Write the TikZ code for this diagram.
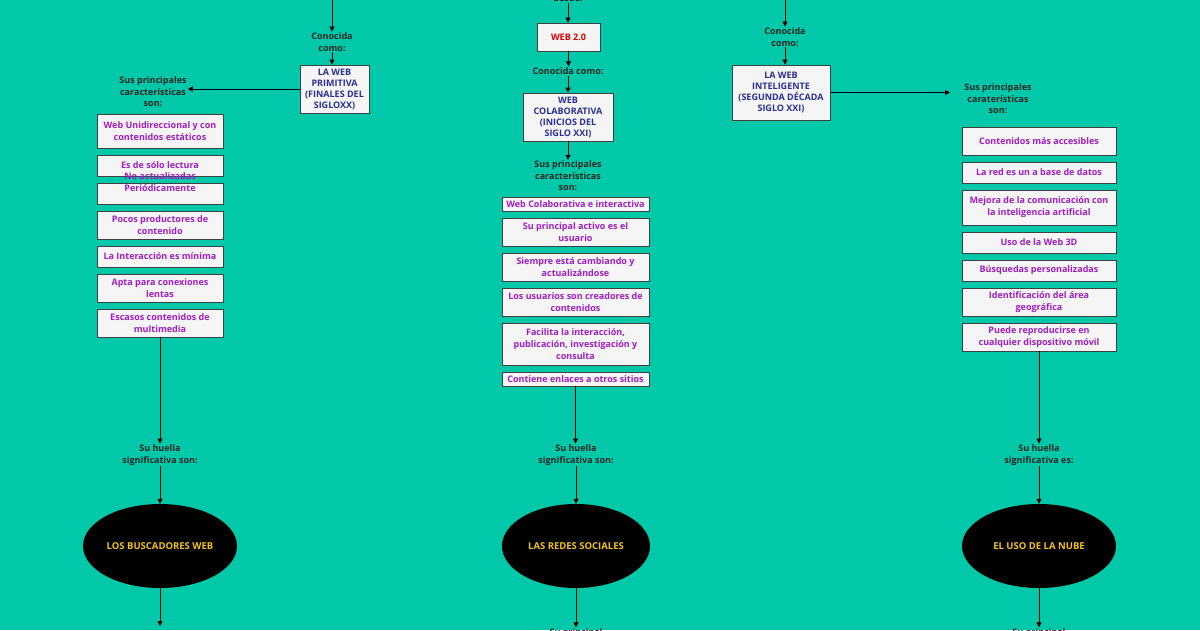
\documentclass[tikz,border=0pt]{standalone}
\usepackage{fontspec}
\setmainfont{Open Sans}
\usetikzlibrary{arrows.meta,shapes.geometric}
\definecolor{bg}{HTML}{00C8A8}
\definecolor{navy}{HTML}{2A2F8F}
\definecolor{purp}{HTML}{A21CC2}
\definecolor{gold}{HTML}{F2C21B}
\begin{document}
\begin{tikzpicture}[x=1pt,y=-1pt,
  box/.style={draw=black!75,line width=0.8pt,fill=white!96!black,align=center,inner sep=1pt,font=\fontsize{9}{12}\selectfont\bfseries},
  feat/.style={box,text=purp},
  title/.style={box,text=navy,font=\fontsize{9}{11}\selectfont\bfseries},
  lbl/.style={align=center,font=\fontsize{9}{11.5}\selectfont\bfseries,text=black!85,inner sep=1pt},
  oval/.style={ellipse,fill=black,text=gold,font=\fontsize{9.5}{10}\selectfont\bfseries,inner sep=0pt},
  arr/.style={-{Triangle[length=5pt,width=5pt]},line width=0.8pt,black}]
\useasboundingbox[fill=bg] (0,0) rectangle (1200,630);
% ---------- left column
\coordinate (lt) at (332,-2);
\node[lbl] (lc) at (332,42) {Conocida\\como:};
\node[title,minimum width=69pt,minimum height=48pt] (lw) at (334.5,89) {LA WEB\\PRIMITIVA\\(FINALES DEL\\SIGLOXX)};
\draw[arr] (lt) -- (lt |- lc.north);
\draw[arr] (lc.south) -- (lc.south |- lw.north);
\node[lbl] (ls) at (153,92) {Sus principales\\características\\son:};
\draw[arr] (lw.west) -- (lw.west -| ls.east);
\tikzset{lf/.style={feat,minimum width=126pt}}
\node[lf,minimum height=34pt] (l1) at (160,131) {Web Unidireccional y con\\contenidos estáticos};
\node[lf,minimum height=21pt] (l2) at (160,165.5) {Es de sólo lectura};
\node[lf,minimum height=21pt,text height=6pt,text depth=10pt] (l3) at (160,193.5) {No actualizadas\\Periódicamente};
\node[lf,minimum height=28pt] (l4) at (160,225) {Pocos productores de\\contenido};
\node[lf,minimum height=21pt] (l5) at (160,256.5) {La Interacción es mínima};
\node[lf,minimum height=28pt] (l6) at (160,288) {Apta para conexiones\\lentas};
\node[lf,minimum height=28pt] (l7) at (160,323) {Escasos contenidos de\\multimedia};
\node[lbl] (lh) at (160,455) {Su huella\\significativa son:};
\draw[arr] (l7.south) -- (l7.south |- lh.north);
\node[oval,minimum width=154pt,minimum height=84pt] (le) at (160,546) {LOS BUSCADORES WEB};
\draw[arr] (lh.south) -- (lh.south |- le.north);
\coordinate (lb) at (160,626);
\draw[arr] (le.south) -- (lb);
% ---------- middle column
\node[lbl] (md) at (568,-2) {desde.};
\node[box,text=red!85!black,minimum width=63pt,minimum height=28pt] (m2) at (568.5,37) {WEB 2.0};
\draw[arr] (md.south) -- (md.south |- m2.north);
\node[lbl] (mc) at (568,71) {Conocida como:};
\draw[arr] (m2.south) -- (m2.south |- mc.north);
\node[title,minimum width=90pt,minimum height=48pt] (mw) at (568,117) {WEB\\COLABORATIVA\\(INICIOS DEL\\SIGLO XXI)};
\draw[arr] (mc.south) -- (mc.south |- mw.north);
\node[lbl] (ms) at (568,176) {Sus principales\\características\\son:};
\draw[arr] (mw.south) -- (mw.south |- ms.north);
\tikzset{mf/.style={feat,minimum width=147pt}}
\node[mf,minimum height=14pt] (m1) at (575.5,204) {Web Colaborativa e interactiva};
\node[mf,minimum height=28pt] (m3) at (575.5,232) {Su principal activo es el\\usuario};
\node[mf,minimum height=28pt] (m4) at (575.5,267) {Siempre está cambiando y\\actualizándose};
\node[mf,minimum height=28pt] (m5) at (575.5,302) {Los usuarios son creadores de\\contenidos};
\node[mf,minimum height=42pt] (m6) at (575.5,344) {Facilita la interacción,\\publicación, investigación y\\consulta};
\node[mf,minimum height=14pt] (m7) at (575.5,379) {Contiene enlaces a otros sitios};
\node[lbl] (mh) at (576,455) {Su huella\\significativa son:};
\draw[arr] (m7.south) -- (m7.south |- mh.north);
\node[oval,minimum width=148pt,minimum height=84pt] (me) at (576,546) {LAS REDES SOCIALES};
\draw[arr] (mh.south) -- (mh.south |- me.north);
\node[lbl] (mp) at (576,633) {Su principal};
\draw[arr] (me.south) -- (mp.north);
% ---------- right column
\coordinate (rt) at (785,-2);
\node[lbl] (rc) at (785,37) {Conocida\\como:};
\draw[arr] (rt) -- (rt |- rc.north);
\node[title,minimum width=98pt,minimum height=55pt] (rw) at (781,92.5) {LA WEB\\INTELIGENTE\\(SEGUNDA DÉCADA\\SIGLO XXI)};
\draw[arr] (rc.south) -- (rc.south |- rw.north);
\node[lbl] (rs) at (998,99) {Sus principales\\caraterísticas\\son:};
\coordinate (ra) at (950,93);
\draw[arr] (rw.east) -- (rw.east -| ra);
\tikzset{rf/.style={feat,minimum width=154pt}}
\node[rf,minimum height=28pt] (r1) at (1039,141) {Contenidos más accesibles};
\node[rf,minimum height=21pt] (r2) at (1039,172.5) {La red es un a base de datos};
\node[rf,minimum height=35pt] (r3) at (1039,207.5) {Mejora de la comunicación con\\la inteligencia artificial};
\node[rf,minimum height=21pt] (r4) at (1039,242.5) {Uso de la Web 3D};
\node[rf,minimum height=21pt] (r5) at (1039,270.5) {Búsquedas personalizadas};
\node[rf,minimum height=28pt] (r6) at (1039,302) {Identificación del área\\geográfica};
\node[rf,minimum height=28pt] (r7) at (1039,337) {Puede reproducirse en\\cualquier dispositivo móvil};
\node[lbl] (rh) at (1039,455) {Su huella\\significativa es:};
\draw[arr] (r7.south) -- (r7.south |- rh.north);
\node[oval,minimum width=154pt,minimum height=84pt] (re) at (1039,546) {EL USO DE LA NUBE};
\draw[arr] (rh.south) -- (rh.south |- re.north);
\node[lbl] (rp) at (1039,633) {Su principal};
\draw[arr] (re.south) -- (rp.north);
\end{tikzpicture}
\end{document}
